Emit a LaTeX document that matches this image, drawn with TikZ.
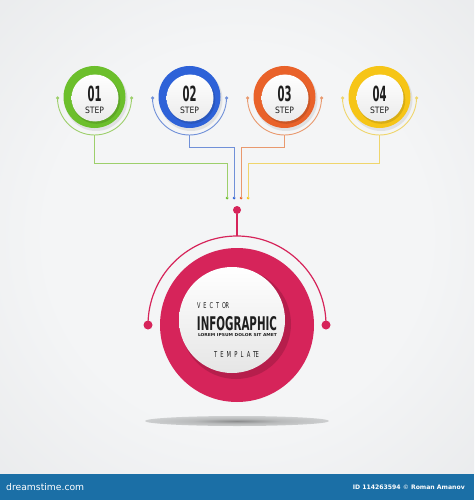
\documentclass[tikz,border=0pt]{standalone}
\usepackage{fontspec}
\setmainfont{DejaVu Sans}
\usepackage{graphicx}
\definecolor{cgreen}{HTML}{6CBF2C}
\definecolor{lgreen}{HTML}{9DCF6B}
\definecolor{cblue}{HTML}{2E62D8}
\definecolor{lblue}{HTML}{7090D8}
\definecolor{corange}{HTML}{E9622A}
\definecolor{lorange}{HTML}{E9996E}
\definecolor{cyellow}{HTML}{F6C517}
\definecolor{lyellow}{HTML}{EFD56C}
\definecolor{cred}{HTML}{D6245A}
\definecolor{cbar}{HTML}{1B6FA6}
\definecolor{bgin}{HTML}{F4F5F6}
\definecolor{bgout}{HTML}{D5D7DA}
\definecolor{bgmid}{HTML}{E7E9EA}
\definecolor{txt}{HTML}{1E1E1E}
\pgfdeclareradialshading{bgshade}{\pgfpoint{0bp}{0bp}}{color(0bp)=(bgin); color(20bp)=(bgin); color(70bp)=(bgout)}
\pgfdeclareradialshading{shadowshade}{\pgfpoint{0bp}{0bp}}{color(0bp)=(black!40!bgmid); color(12bp)=(black!20!bgmid); color(35bp)=(black!5!bgmid); color(50bp)=(bgmid)}
\begin{document}
\begin{tikzpicture}[x=1pt,y=-1pt,
  ring/.style={circle, minimum size=62pt, inner sep=0pt, fill=#1},
  face/.style={circle, minimum size=47pt, inner sep=0pt, top color=white, bottom color=black!8},
  dotnode/.style={circle, minimum size=#1, inner sep=0pt},
  wire/.style={line width=0.9pt},
  lbl/.style={inner sep=0pt, text=txt}]
\useasboundingbox (0,0) rectangle (474,500);
\shade[shading=bgshade] (0,0) rectangle (474,474);
% shadow under big circle
\shade[shading=shadowshade] (237,421) ellipse [x radius=92, y radius=5];
% steps
\foreach \i/\x/\c/\l/\ex/\h in {1/94.5/cgreen/lgreen/227/163, 2/189.5/cblue/lblue/234/147, 3/284.5/corange/lorange/241/147, 4/379.5/cyellow/lyellow/248/163}{
  \draw[wire, \l] (\x-37,98) coordinate (al\i) arc[start angle=180, end angle=0, radius=37] coordinate (ar\i);
  \node[dotnode=3.5pt, fill=\l] (dl\i) at (al\i) {};
  \node[dotnode=3.5pt, fill=\l] (dr\i) at (ar\i) {};
  \coordinate (b\i) at (\x,135);
  \coordinate (k\i) at (\ex,\h);
  \node[dotnode=3pt, fill=\c] (e\i) at (\ex,198) {};
  \draw[wire, \l] (b\i) |- (k\i) -- (e\i.center);
  \fill[black, opacity=0.08] (\x+1.5,99.5) circle [radius=31.5];
  \node[ring=\c] (r\i) at (\x,97) {};
  \fill[black, opacity=0.12] (\x+1.8,99.8) circle [radius=24];
  \node[face] (f\i) at (\x+0.5,98) {};
  \node[lbl] (n\i) at (\x,93.5) {\resizebox{14pt}{15.5pt}{\bfseries 0\i}};
  \node[lbl] (t\i) at (\x,110) {\resizebox{19pt}{6.5pt}{STEP}};
}
% central connector
\node[dotnode=8pt, fill=cred] (rd) at (237,210) {};
\coordinate (top) at (237,236);
\draw[cred, line width=1.2pt] (rd) -- (top);
\draw[cred, line width=1.2pt] (148,325) coordinate (bl) arc[start angle=180, end angle=360, radius=89] coordinate (br);
\node[dotnode=9pt, fill=cred] (bdl) at (bl) {};
\node[dotnode=9pt, fill=cred] (bdr) at (br) {};
% big circle
\node[circle, minimum size=154pt, inner sep=0pt, fill=cred] (big) at (237,325) {};
\fill[black, opacity=0.15] (236,324) circle [radius=55];
\node[circle, minimum size=106pt, inner sep=0pt, top color=white, bottom color=black!10] (bw) at (232,320) {};
\node[lbl] (v) at (213,306) {\resizebox{32pt}{6pt}{\addfontfeature{LetterSpace=60}VECTO\kern-0.1em R}};
\node[lbl] (ig) at (237,324) {\resizebox{80pt}{14pt}{\bfseries INFOGRAPHIC}};
\node[lbl] (lo) at (237.5,335.5) {\resizebox{79pt}{3pt}{\bfseries LOREM IPSUM DOLOR SIT AMET}};
\node[lbl] (tp) at (236.5,354) {\resizebox{45pt}{6pt}{\addfontfeature{LetterSpace=60}TEMPLAT\kern-0.1em E}};
% bottom bar
\fill[cbar] (0,474) rectangle (474,500);
\node[inner sep=0pt, text=white, anchor=west] (ds) at (6,487) {\resizebox{78pt}{!}{dreamstime.com}};
\node[inner sep=0pt, text=white, anchor=east] (id) at (465,487) {\resizebox{112pt}{!}{\bfseries ID 114263594 {\color{white!70!cbar}\textcopyright} Roman Amanov}};
\end{tikzpicture}
\end{document}
